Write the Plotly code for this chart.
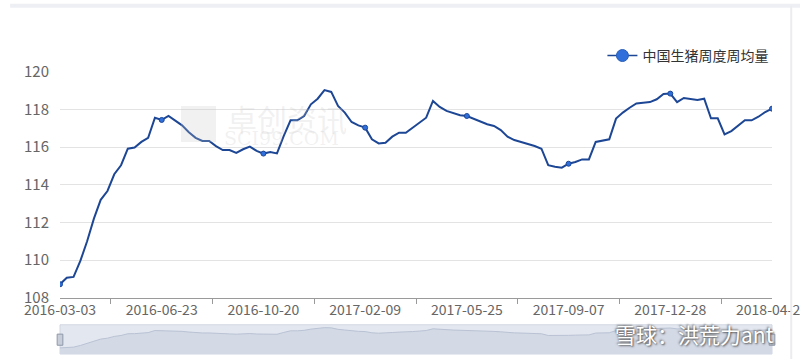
import pandas as pd
import plotly.graph_objects as go

series_name = "中国生猪周度周均量"

# weekly dates (some holiday weeks missing in the source)
skipped_weeks = ["2016-04-07", "2016-09-15", "2016-10-06", "2017-02-02",
                 "2017-10-05", "2018-02-15", "2018-02-22"]
all_weeks = pd.date_range("2016-03-03", "2018-04-26", freq="7D")
dates = [d.strftime("%Y-%m-%d") for d in all_weeks if d.strftime("%Y-%m-%d") not in skipped_weeks]

values = [
    108.71, 109.06, 109.10, 109.95, 111.00, 112.20, 113.20, 113.67, 114.56, 115.04,
    115.92, 115.98, 116.28, 116.50, 117.57, 117.45, 117.66, 117.40, 117.16, 116.80,
    116.50, 116.33, 116.33, 116.06, 115.85, 115.85, 115.70, 115.89, 116.03, 115.80,
    115.66, 115.74, 115.67, 116.60, 117.43, 117.43, 117.66, 118.28, 118.58, 119.04,
    118.94, 118.19, 117.84, 117.34, 117.16, 117.04, 116.42, 116.20, 116.24, 116.56,
    116.77, 116.77, 117.04, 117.30, 117.57, 118.46, 118.14, 117.93, 117.80, 117.70,
    117.66, 117.52, 117.34, 117.22, 117.13, 116.91, 116.56, 116.38, 116.28, 116.19,
    116.06, 115.92, 115.04, 114.96, 114.91, 115.12, 115.21, 115.35, 115.35, 116.28,
    116.37, 116.42, 117.52, 117.84, 118.10, 118.33, 118.37, 118.40, 118.55, 118.83,
    118.85, 118.40, 118.62, 118.55, 118.51, 118.58, 117.54, 117.54, 116.68, 116.86,
    117.13, 117.43, 117.43, 117.62, 117.87, 118.05,
]

label_step = 15
y_ticks = [108, 110, 112, 114, 116, 118, 120]

n = len(dates)
idx = list(range(n))
label_idx = idx[::label_step]
tick_labels = [dates[i] for i in label_idx]
mid_ticks = [i + label_step / 2 for i in label_idx[:-1]]

LINE = "#1d4795"
DOT = "#2f6fdc"
FONT = "Noto Sans CJK SC"

fig = go.Figure()

# main line
fig.add_trace(go.Scatter(
    x=idx, y=values, mode="lines", line=dict(color=LINE, width=2),
    customdata=dates, hovertemplate="%{customdata}<br>%{y}<extra></extra>",
    showlegend=False, xaxis="x", yaxis="y"))
# sampled symbols
fig.add_trace(go.Scatter(
    x=label_idx, y=[values[i] for i in label_idx], mode="markers",
    marker=dict(size=5, color=DOT, line=dict(color=LINE, width=1)),
    showlegend=False, hoverinfo="skip", xaxis="x", yaxis="y"))
# legend entry
fig.add_trace(go.Scatter(
    x=[None], y=[None], mode="lines+markers", name=series_name,
    line=dict(color=LINE, width=1.5),
    marker=dict(size=12, color=DOT, line=dict(color="#2b5fb8", width=1)),
    xaxis="x", yaxis="y"))

# data-zoom shadow
fig.add_trace(go.Scatter(
    x=idx, y=values, mode="lines", fill="tozeroy",
    line=dict(color="#b9c2d3", width=1), fillcolor="#d3d9e5",
    showlegend=False, hoverinfo="skip", xaxis="x2", yaxis="y2"))

WM = "rgba(200,200,200,0.25)"

fig.update_layout(
    width=800, height=359,
    margin=dict(l=60, r=28, t=72, b=5, autoexpand=False),
    paper_bgcolor="white", plot_bgcolor="white",
    font=dict(family=FONT, size=14, color="#666"),
    showlegend=True,
    legend=dict(x=1.002, xanchor="right", y=1.057, yanchor="middle",
                font=dict(size=14, color="#333", family=FONT),
                bgcolor="rgba(0,0,0,0)", itemwidth=30),
    xaxis=dict(domain=[0, 1], range=[0, n - 1], showgrid=False, zeroline=False,
               showline=True, linecolor="#9a9a9a", linewidth=1,
               tickmode="array", tickvals=label_idx, ticktext=tick_labels,
               ticks="", ticklabeloverflow="allow",
               tickfont=dict(size=14, color="#666"),
               minor=dict(tickmode="array", tickvals=mid_ticks, ticks="outside",
                          ticklen=5, tickcolor="#9a9a9a", showgrid=False),
               anchor="y"),
    yaxis=dict(domain=[0.2, 1], range=[108, 120], tickvals=y_ticks,
               showgrid=True, gridcolor="#e3e3e3", gridwidth=1, zeroline=False,
               showline=False, ticks="", ticklabelstandoff=10,
               tickfont=dict(size=15, color="#666"), anchor="x"),
    xaxis2=dict(domain=[0, 1], range=[0, n - 1], visible=False, anchor="y2"),
    yaxis2=dict(domain=[0, 0.1036], range=[105.6, 120.5], visible=False, anchor="x2"),
    shapes=[
        # slider background
        dict(type="rect", xref="x2 domain", yref="y2 domain", x0=0, x1=1, y0=0, y1=1,
             fillcolor="#e3e7f0", line=dict(color="#d0d6e2", width=1), layer="below"),
        # slider handles
        dict(type="rect", xref="x2 domain", yref="y2 domain", x0=-0.004, x1=0.004,
             y0=0.3, y1=0.68, fillcolor="#c8ced9", line=dict(color="#8f98a8", width=1)),
        dict(type="rect", xref="x2 domain", yref="y2 domain", x0=0.996, x1=1.004,
             y0=0.3, y1=0.68, fillcolor="#c8ced9", line=dict(color="#8f98a8", width=1)),
        # container borders
        dict(type="line", xref="paper", yref="paper", x0=-0.07, x1=1.05, y0=1.235, y1=1.235,
             line=dict(color="#eeeff4", width=4)),
        dict(type="line", xref="paper", yref="paper", x0=1.027, x1=1.027, y0=-0.1, y1=1.235,
             line=dict(color="#ececf0", width=2)),
        # faint watermark logo block
        dict(type="rect", xref="paper", yref="paper", x0=(181 - 60) / 712, x1=(216 - 60) / 712,
             y0=(354 - 142) / 282, y1=(354 - 106) / 282, fillcolor=WM, line=dict(width=0)),
    ],
    annotations=[
        dict(text="卓创资讯", xref="paper", yref="paper", x=(287 - 60) / 712, y=(354 - 118) / 282,
             xanchor="center", yanchor="middle",
             showarrow=False, font=dict(size=30, color=WM, family=FONT)),
        dict(text="SCI99.COM", xref="paper", yref="paper", x=(281 - 60) / 712, y=(354 - 138) / 282,
             xanchor="center", yanchor="middle",
             showarrow=False, font=dict(size=19, color=WM, family="DejaVu Serif")),
        dict(text="雪球：洪荒力ant", xref="paper", yref="paper", x=(776 - 60) / 712, xanchor="right",
             y=(354 - 334) / 282, yanchor="middle", showarrow=False,
             font=dict(size=21, color="white", family=FONT,
                       shadow="1px 1px 2px #555, -1px -1px 2px #777")),
    ],
)

fig.write_html("out.html", config={"displayModeBar": False},
               post_script="document.body.style.margin='0';document.body.style.overflow='hidden';")
